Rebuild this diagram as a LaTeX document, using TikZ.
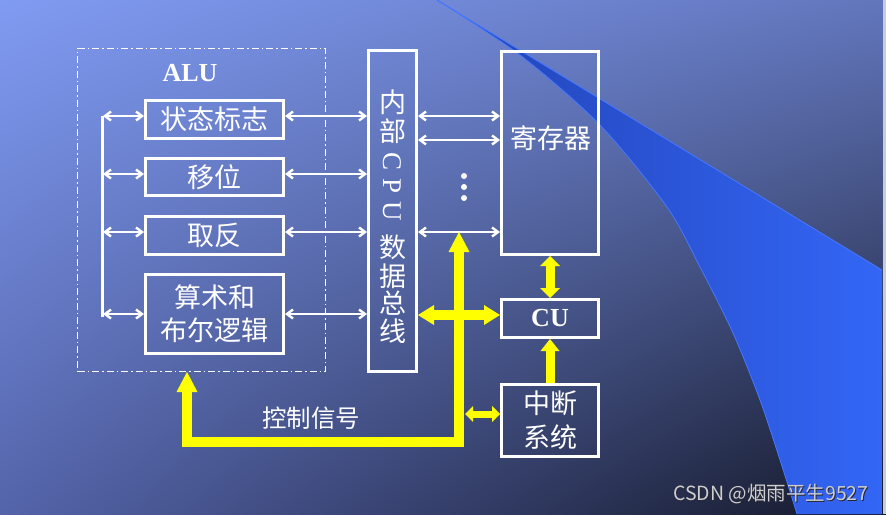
\documentclass[tikz,border=0pt]{standalone}
\usepackage{fontspec}
\setmainfont{Liberation Serif}
\newfontfamily\cjk{Noto Sans CJK SC}
\usetikzlibrary{arrows.meta,shadings}
\definecolor{bgUL}{RGB}{128,155,242}
\definecolor{bgUR}{RGB}{98,118,188}
\definecolor{bgLL}{RGB}{84,100,170}
\definecolor{bgLR}{RGB}{20,24,40}
\definecolor{swL}{RGB}{34,66,180}
\definecolor{swR}{RGB}{51,102,246}
\definecolor{swEdge}{RGB}{70,120,255}
\definecolor{ylw}{RGB}{255,255,0}
\definecolor{wmark}{RGB}{205,205,210}
\definecolor{wshadow}{RGB}{40,40,50}
\definecolor{strip}{RGB}{200,205,220}
\begin{document}
\begin{tikzpicture}[x=1pt,y=-1pt,
  box/.style={draw=white, line width=3pt, inner sep=0pt},
  cn/.style={text=white, font=\cjk\fontsize{27}{33}\selectfont, inner sep=0pt, align=center},
  lat/.style={text=white, font=\bfseries\fontsize{26}{28}\selectfont, inner sep=0pt},
  warr/.style={draw=white, line width=2.4pt, {Straight Barb[length=6pt,width=9pt]}-{Straight Barb[length=6pt,width=9pt]}},
]
% background
\useasboundingbox (0,0) rectangle (886,514);
\shade[upper left=bgUL, upper right=bgUR, lower left=bgLL, lower right=bgLR] (0,0) rectangle (886,514);
\shade[left color=swL, right color=swR] (437,0) -- (882,270) -- (882,514) -- (797,514)
  -- plot[smooth] coordinates {(797,514) (780,460) (760,400) (733,333) (700,267) (667,207) (600,125) (520,55) (437,0)} -- cycle;
\draw[swEdge, line width=0.8pt] (437,0) -- (882,270);
\draw[swEdge, line width=0.8pt] plot[smooth] coordinates {(797,514) (780,460) (760,400) (733,333) (700,267) (667,207) (600,125) (520,55) (437,0)};
\fill[strip] (883,0) rectangle (886,514);

% ALU region
\node[draw=white, line width=1pt, dash pattern=on 7pt off 3pt on 1.5pt off 3pt,
      minimum width=248, minimum height=323, inner sep=0pt] (alubox) at (201.5,210) {};
\node[lat] (alut) at (190,73) {ALU};
\node[box, cn, minimum width=138, minimum height=38] (flag) at (214.5,119.5) {状态标志};
\node[box, cn, minimum width=138, minimum height=37] (shift) at (214.5,177) {移位};
\node[box, cn, minimum width=138, minimum height=38] (neg) at (214.5,235.5) {取反};
\node[box, cn, minimum width=138, minimum height=79] (logic) at (214.5,314) {算术和\\布尔逻辑};

% internal bus
\node[box, minimum width=48, minimum height=321] (bus) at (392.5,211) {};
\node[cn] (b1) at (392.5,102) {内};
\node[cn] (b2) at (392.5,131) {部};
\node[text=white, font=\fontsize{27}{28}\selectfont, inner sep=0pt, rotate=-90] (bcpu) at (392.5,187) {C\hspace{8pt}P\hspace{8pt}U};
\node[cn] (b3) at (392.5,247) {数};
\node[cn] (b4) at (392.5,276) {据};
\node[cn] (b5) at (392.5,303) {总};
\node[cn] (b6) at (392.5,331) {线};

% right column
\node[box, minimum width=97, minimum height=203] (reg) at (550,153) {};
\node[cn] (regt) at (551,138) {寄存器};
\node[box, lat, minimum width=97, minimum height=38] (cu) at (550,318.5) {CU};
\node[box, cn, minimum width=97, minimum height=72, font=\cjk\fontsize{27}{34}\selectfont] (int) at (550,420.5) {中断\\系统};

% dots
\foreach \yy in {176,187,198} \fill[white] (464,\yy) circle (3);

% named points
\coordinate (lx) at (102,0);
\coordinate (r1) at ([yshift=3.5pt]flag.west);
\coordinate (r2) at ([yshift=3pt]shift.west);
\coordinate (r3) at ([yshift=3.5pt]neg.west);
\coordinate (r4) at (logic.west);
\coordinate (q1) at ([yshift=37pt]reg.west);
\coordinate (q2) at ([yshift=13pt]reg.west);
\coordinate (q3) at ([yshift=-79pt]reg.west);
\coordinate (c1) at (187,442);
\coordinate (c2) at (459,442);
\coordinate (i1) at ([yshift=6.5pt]int.west);
\coordinate (k1) at ([yshift=3.5pt]cu.west);

% white connectors
\draw[white, line width=3pt] (r1 -| lx) -- ([yshift=-3pt]r4 -| lx);
\foreach \r/\b in {r1/flag, r2/shift, r3/neg, r4/logic} {
  \draw[warr] ([xshift=1pt]\r -| lx) -- (\r);
  \draw[warr] (\r -| \b.east) -- (\r -| bus.west);
}
\foreach \q in {q1,q2,q3} \draw[warr] (\q -| bus.east) -- (\q);

% yellow connectors
\draw[ylw, line width=9pt, {Triangle[length=10pt,width=20pt,line width=0pt]}-{Triangle[length=10pt,width=20pt,line width=0pt]}] (reg.south) -- (cu.north);
\draw[ylw, line width=9pt, -{Triangle[length=12pt,width=19pt,line width=0pt]}] (int.north) -- (cu.south);
\draw[ylw, line width=10pt, {Triangle[length=20pt,width=21pt,line width=0pt]}-{Triangle[length=20pt,width=21pt,line width=0pt]}]
  (alubox.south -| c1) -- (c1) -- (c2) -- (c2 |- q3);
\draw[ylw, line width=10pt, {Triangle[length=16pt,width=20pt,line width=0pt]}-{Triangle[length=16pt,width=20pt,line width=0pt]}] (k1 -| bus.east) -- (k1);
\draw[ylw, line width=7pt, {Triangle[length=8pt,width=16pt,line width=0pt]}-{Triangle[length=8pt,width=16pt,line width=0pt]}] ([xshift=6pt]i1 -| c2) -- (i1);

\node[cn, font=\cjk\fontsize{24.5}{28}\selectfont] (ctl) at (311,418) {控制信号};

% watermark
\node[font=\cjk\fontsize{19.5}{21}\selectfont, text=wshadow, inner sep=0pt] (wms) at (772,495) {CSDN @烟雨平生9527};
\node[font=\cjk\fontsize{19.5}{21}\selectfont, text=wmark, inner sep=0pt] (wm) at (771,494) {CSDN @烟雨平生9527};
\end{tikzpicture}
\end{document}
